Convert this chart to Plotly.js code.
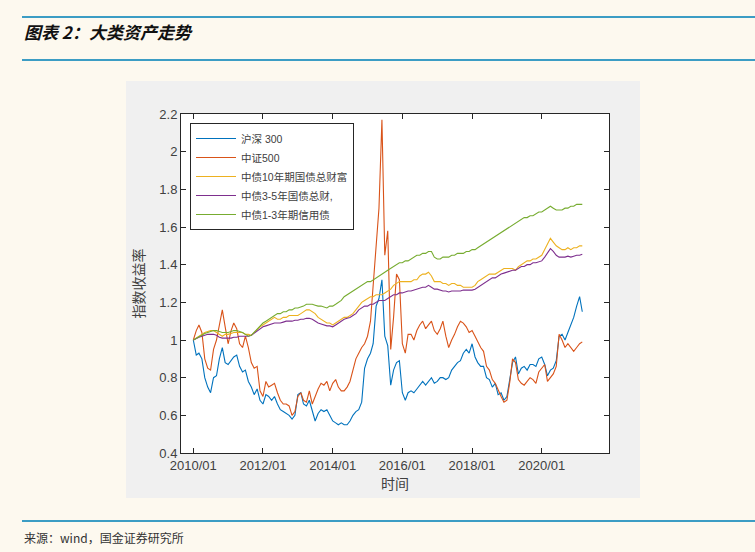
<!DOCTYPE html>
<html>
<head>
<meta charset="utf-8">
<script src="https://cdn.plot.ly/plotly-3.0.1.min.js"></script>
<style>
html,body{margin:0;padding:0;background:#fdf9ef;}
#chart{width:755px;height:552px;}
</style>
</head>
<body>
<div id="chart"></div>
<script>
// ---- data (monthly readings, 2010/01 .. 2021/03) ----
var startYear = 2010, startMonth = 1;
var seriesNames = ['沪深 300', '中证500', '中债10年期国债总财富', '中债3-5年国债总财,', '中债1-3年期信用债'];

var hs300 = [
  1.00, 0.92, 0.93, 0.90, 0.80, 0.75, 0.72, 0.80, 0.81, 0.90, 0.96, 0.88,
  0.87, 0.89, 0.91, 0.92, 0.86, 0.83, 0.84, 0.78, 0.75, 0.71, 0.74, 0.68,
  0.66, 0.71, 0.70, 0.68, 0.70, 0.66, 0.63, 0.62, 0.61, 0.60, 0.58, 0.60,
  0.71, 0.72, 0.66, 0.65, 0.68, 0.62, 0.57, 0.61, 0.63, 0.62, 0.63, 0.60,
  0.57, 0.56, 0.55, 0.56, 0.55, 0.55, 0.57, 0.60, 0.62, 0.63, 0.67, 0.85,
  0.90, 0.93, 0.98, 1.18, 1.22, 1.32, 1.02, 0.97, 0.76, 0.84, 0.88, 0.89,
  0.72, 0.68, 0.72, 0.73, 0.72, 0.74, 0.76, 0.78, 0.76, 0.78, 0.80, 0.77,
  0.78, 0.80, 0.80, 0.79, 0.80, 0.84, 0.86, 0.88, 0.89, 0.93, 0.95, 0.93,
  0.98, 0.91, 0.88, 0.86, 0.86, 0.80, 0.79, 0.75, 0.77, 0.71, 0.72, 0.68,
  0.70, 0.80, 0.88, 0.91, 0.82, 0.85, 0.86, 0.84, 0.87, 0.87, 0.86, 0.90,
  0.91, 0.87, 0.81, 0.84, 0.85, 0.89, 1.02, 1.03, 1.00, 1.04, 1.08, 1.12,
  1.18, 1.23, 1.15
];
var csi500 = [
  1.00, 1.05, 1.08, 1.04, 0.90, 0.85, 0.84, 0.95, 1.00, 1.08, 1.16, 1.07,
  0.98, 1.05, 1.09, 1.06, 0.98, 0.96, 1.02, 0.96, 0.88, 0.85, 0.86, 0.73,
  0.70, 0.78, 0.75, 0.76, 0.77, 0.72, 0.68, 0.66, 0.66, 0.65, 0.60, 0.62,
  0.70, 0.72, 0.68, 0.67, 0.73, 0.66, 0.70, 0.74, 0.77, 0.76, 0.78, 0.73,
  0.77, 0.79, 0.75, 0.73, 0.73, 0.75, 0.78, 0.84, 0.90, 0.93, 0.96, 0.98,
  1.02, 1.10, 1.28, 1.52, 1.70, 2.17, 1.45, 1.58, 0.95, 1.12, 1.35, 1.32,
  0.98, 0.93, 1.03, 1.03, 1.00, 1.05, 1.08, 1.10, 1.06, 1.08, 1.10, 1.05,
  1.03, 1.06, 1.10, 1.02, 0.96, 1.00, 1.03, 1.07, 1.10, 1.09, 1.07, 1.04,
  1.05, 1.02, 0.99, 0.96, 0.94, 0.86, 0.84, 0.79, 0.77, 0.73, 0.70, 0.67,
  0.68, 0.78, 0.90, 0.88, 0.79, 0.77, 0.76, 0.78, 0.80, 0.79, 0.77, 0.83,
  0.85, 0.87, 0.78, 0.80, 0.82, 0.86, 1.03, 1.00, 0.96, 0.98, 0.96, 0.94,
  0.96, 0.98, 0.99
];
var gov10y = [
  1.00, 1.01, 1.02, 1.03, 1.04, 1.045, 1.05, 1.05, 1.04, 1.03, 1.02, 1.03,
  1.03, 1.035, 1.04, 1.04, 1.04, 1.04, 1.03, 1.03, 1.025, 1.04, 1.06, 1.07,
  1.08, 1.09, 1.10, 1.11, 1.12, 1.11, 1.11, 1.12, 1.12, 1.13, 1.13, 1.13,
  1.13, 1.14, 1.15, 1.16, 1.16, 1.15, 1.14, 1.12, 1.11, 1.10, 1.09, 1.09,
  1.08, 1.09, 1.10, 1.11, 1.12, 1.12, 1.13, 1.14, 1.16, 1.18, 1.20, 1.21,
  1.22, 1.23, 1.23, 1.24, 1.24, 1.24, 1.25, 1.26, 1.27, 1.29, 1.30, 1.31,
  1.31, 1.31, 1.31, 1.31, 1.32, 1.32, 1.34, 1.35, 1.35, 1.36, 1.34, 1.31,
  1.31, 1.31, 1.30, 1.30, 1.29, 1.30, 1.30, 1.29, 1.29, 1.28, 1.28, 1.28,
  1.28, 1.29, 1.31, 1.32, 1.33, 1.34, 1.35, 1.35, 1.35, 1.36, 1.37, 1.38,
  1.38, 1.38, 1.38, 1.37, 1.39, 1.40, 1.41, 1.42, 1.42, 1.43, 1.43, 1.44,
  1.45, 1.48, 1.51, 1.54, 1.52, 1.50, 1.49, 1.48, 1.48, 1.49, 1.48, 1.49,
  1.49, 1.50, 1.50
];
var gov35y = [
  1.00, 1.01, 1.015, 1.02, 1.025, 1.03, 1.03, 1.03, 1.025, 1.015, 1.01, 1.01,
  1.01, 1.01, 1.015, 1.015, 1.02, 1.02, 1.02, 1.02, 1.025, 1.035, 1.05, 1.06,
  1.07, 1.075, 1.08, 1.085, 1.09, 1.09, 1.09, 1.095, 1.10, 1.10, 1.10, 1.105,
  1.105, 1.11, 1.11, 1.115, 1.115, 1.11, 1.10, 1.09, 1.085, 1.08, 1.075, 1.075,
  1.07, 1.08, 1.09, 1.10, 1.11, 1.115, 1.12, 1.13, 1.14, 1.16, 1.17, 1.18,
  1.18, 1.19, 1.19, 1.20, 1.21, 1.21, 1.21, 1.22, 1.23, 1.24, 1.24, 1.25,
  1.25, 1.255, 1.26, 1.26, 1.265, 1.27, 1.275, 1.28, 1.28, 1.29, 1.28, 1.27,
  1.27, 1.265, 1.26, 1.26, 1.255, 1.26, 1.26, 1.26, 1.26, 1.265, 1.265, 1.265,
  1.265, 1.27, 1.28, 1.29, 1.30, 1.31, 1.32, 1.33, 1.33, 1.34, 1.35, 1.355,
  1.36, 1.365, 1.37, 1.37, 1.38, 1.39, 1.39, 1.40, 1.40, 1.41, 1.41, 1.415,
  1.42, 1.44, 1.46, 1.485, 1.47, 1.45, 1.44, 1.44, 1.44, 1.445, 1.44, 1.445,
  1.45, 1.45, 1.455
];
var credit13y = [
  1.00, 1.01, 1.02, 1.03, 1.035, 1.04, 1.045, 1.05, 1.05, 1.045, 1.04, 1.04,
  1.04, 1.045, 1.05, 1.05, 1.045, 1.04, 1.03, 1.02, 1.025, 1.04, 1.06, 1.07,
  1.09, 1.10, 1.11, 1.12, 1.13, 1.14, 1.14, 1.15, 1.15, 1.16, 1.16, 1.17,
  1.17, 1.175, 1.18, 1.19, 1.19, 1.19, 1.185, 1.18, 1.18, 1.175, 1.17, 1.18,
  1.18, 1.19, 1.20, 1.21, 1.23, 1.24, 1.25, 1.26, 1.27, 1.28, 1.29, 1.30,
  1.31, 1.31, 1.32, 1.33, 1.34, 1.35, 1.36, 1.37, 1.38, 1.39, 1.40, 1.41,
  1.41, 1.42, 1.42, 1.43, 1.44, 1.45, 1.45, 1.46, 1.46, 1.47, 1.47, 1.44,
  1.43, 1.43, 1.44, 1.44, 1.44, 1.45, 1.45, 1.46, 1.46, 1.46, 1.47, 1.47,
  1.48, 1.48, 1.49, 1.50, 1.51, 1.52, 1.53, 1.54, 1.55, 1.56, 1.57, 1.58,
  1.59, 1.60, 1.61, 1.62, 1.63, 1.64, 1.65, 1.65, 1.66, 1.66, 1.67, 1.68,
  1.68, 1.69, 1.70, 1.71, 1.70, 1.69, 1.69, 1.69, 1.70, 1.70, 1.71, 1.71,
  1.72, 1.72, 1.72
];
var tickVals = ['2010-01-01', '2012-01-01', '2014-01-01', '2016-01-01', '2018-01-01', '2020-01-01'];
var tickText = ['2010/01', '2012/01', '2014/01', '2016/01', '2018/01', '2020/01'];
var colors = ['#0072BD', '#D95319', '#EDB120', '#7E2F8E', '#77AC30'];

// monthly date labels
var dates = [];
for (var i = 0; i < hs300.length; i++) {
  var m = startMonth - 1 + i;
  var y = startYear + Math.floor(m / 12);
  var mm = (m % 12) + 1;
  dates.push(y + '-' + (mm < 10 ? '0' + mm : mm) + '-01');
}

var allSeries = [hs300, csi500, gov10y, gov35y, credit13y];
var traces = allSeries.map(function (s, k) {
  return {
    x: dates, y: s, type: 'scatter', mode: 'lines', name: seriesNames[k],
    line: {color: colors[k], width: 1.1}
  };
});

// geometry helpers (plot area in pixels: x 181..609, y 114..453)
var L = 181, R = 609, T = 114, B = 453;
function px(x) { return (x - L) / (R - L); }
function py(y) { return (B - y) / (B - T); }
var rule = '#3c9dc4';

var layout = {
  width: 755, height: 552,
  margin: {l: L, r: 755 - R, t: T, b: 552 - B, pad: 0},
  paper_bgcolor: '#fdf9ef',
  plot_bgcolor: 'rgba(0,0,0,0)',
  font: {family: 'Liberation Sans, Arial, Noto Sans CJK SC, sans-serif', color: '#404040'},
  showlegend: true,
  legend: {
    x: px(190), y: py(123), xanchor: 'left', yanchor: 'top',
    bgcolor: '#ffffff', bordercolor: '#262626', borderwidth: 1,
    font: {size: 10.5, color: '#404040', family: 'Liberation Sans, Arial, Noto Sans CJK SC, sans-serif'},
    tracegroupgap: 0, itemwidth: 40
  },
  xaxis: {
    type: 'date',
    range: ['2009-08-25', '2021-12-06'],
    tickvals: tickVals, ticktext: tickText,
    ticks: 'inside', ticklen: 5, tickcolor: '#262626',
    showline: true, linecolor: '#262626', linewidth: 1, mirror: 'ticks',
    showgrid: false, zeroline: false,
    tickfont: {size: 13, color: '#404040'},
    title: {text: '时间', font: {size: 14, color: '#404040', family: 'Noto Sans CJK SC'}, standoff: 7}
  },
  yaxis: {
    range: [0.4, 2.2], dtick: 0.2, tick0: 0.4,
    ticks: 'inside', ticklen: 5, tickcolor: '#262626',
    showline: true, linecolor: '#262626', linewidth: 1, mirror: 'ticks',
    showgrid: false, zeroline: false,
    tickfont: {size: 13, color: '#404040'},
    title: {text: '指数收益率', font: {size: 14, color: '#404040', family: 'Noto Sans CJK SC'}, standoff: 11}
  },
  shapes: [
    {type: 'rect', xref: 'paper', yref: 'paper', x0: px(126), x1: px(640), y0: py(498), y1: py(81),
      fillcolor: '#f0f0f0', line: {width: 0}, layer: 'below'},
    {type: 'rect', xref: 'paper', yref: 'paper', x0: 0, x1: 1, y0: 0, y1: 1,
      fillcolor: '#ffffff', line: {width: 0}, layer: 'below'},
    {type: 'line', xref: 'paper', yref: 'paper', x0: px(22), x1: px(755), y0: py(17), y1: py(17),
      line: {color: rule, width: 2}},
    {type: 'line', xref: 'paper', yref: 'paper', x0: px(22), x1: px(755), y0: py(60), y1: py(60),
      line: {color: rule, width: 2}},
    {type: 'line', xref: 'paper', yref: 'paper', x0: px(22), x1: px(755), y0: py(521), y1: py(521),
      line: {color: rule, width: 2}}
  ],
  annotations: [
    {xref: 'paper', yref: 'paper', x: px(22), y: py(32), xanchor: 'left', yanchor: 'middle',
      text: '<b><i>图表 2：大类资产走势</i></b>', showarrow: false,
      font: {size: 17, color: '#111111', family: 'Noto Sans CJK SC'}},
    {xref: 'paper', yref: 'paper', x: px(22), y: py(537), xanchor: 'left', yanchor: 'middle',
      text: '来源：wind，国金证券研究所', showarrow: false,
      font: {size: 12, color: '#333333', family: 'Noto Sans CJK SC'}}
  ]
};

Plotly.newPlot('chart', traces, layout, {staticPlot: true, displayModeBar: false});
</script>
</body>
</html>
